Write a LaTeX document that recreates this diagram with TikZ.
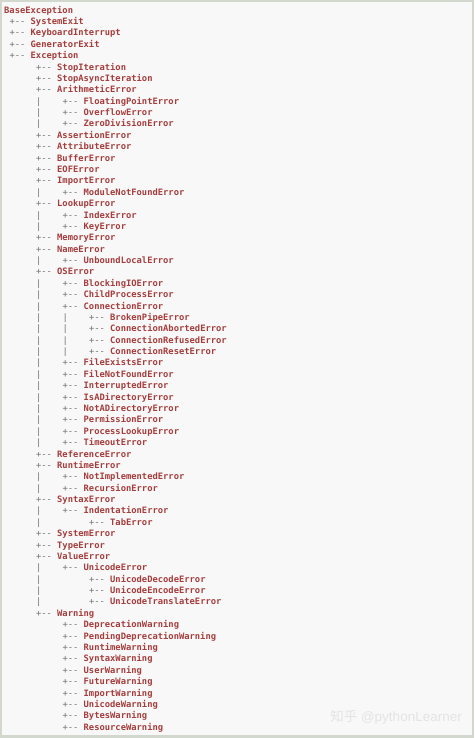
\documentclass[tikz,border=0pt]{standalone}
\usepackage{fontspec}
\setmonofont{DejaVu Sans Mono}
\setsansfont{Liberation Sans}
\newfontfamily\cjk{Noto Sans CJK SC}
\definecolor{excred}{HTML}{A63D3D}
\definecolor{treegray}{HTML}{707070}
\definecolor{pagebg}{HTML}{F8F8F8}
\definecolor{frameline}{HTML}{D2D8CE}
\definecolor{markgray}{HTML}{E4E4E4}

\begin{document}
\begin{tikzpicture}[x=5.3pt, y=-11.38pt,
  exc/.style={anchor=base west, inner sep=0pt, text=excred,
    font=\ttfamily\bfseries\fontsize{8.8}{10}\selectfont},
  tree/.style={anchor=base west, inner sep=0pt, text=treegray,
    font=\ttfamily\fontsize{8.8}{10}\selectfont}]
  \useasboundingbox (0pt,0pt) rectangle (474pt,-738pt);
  \fill[frameline] (0pt,0pt) rectangle (474pt,-738pt);
  \fill[pagebg] (2pt,-2pt) rectangle (472pt,-735pt);

  \begin{scope}[shift={(4pt,-13.2pt)}]
    \foreach \c/\n [count=\r from 0] in {
      0/BaseException, 5/SystemExit, 5/KeyboardInterrupt, 5/GeneratorExit,
      5/Exception, 10/StopIteration, 10/StopAsyncIteration, 10/ArithmeticError,
      15/FloatingPointError, 15/OverflowError, 15/ZeroDivisionError,
      10/AssertionError, 10/AttributeError, 10/BufferError, 10/EOFError,
      10/ImportError, 15/ModuleNotFoundError, 10/LookupError, 15/IndexError,
      15/KeyError, 10/MemoryError, 10/NameError, 15/UnboundLocalError,
      10/OSError, 15/BlockingIOError, 15/ChildProcessError, 15/ConnectionError,
      20/BrokenPipeError, 20/ConnectionAbortedError, 20/ConnectionRefusedError,
      20/ConnectionResetError, 15/FileExistsError, 15/FileNotFoundError,
      15/InterruptedError, 15/IsADirectoryError, 15/NotADirectoryError,
      15/PermissionError, 15/ProcessLookupError, 15/TimeoutError,
      10/ReferenceError, 10/RuntimeError, 15/NotImplementedError,
      15/RecursionError, 10/SyntaxError, 15/IndentationError, 20/TabError,
      10/SystemError, 10/TypeError, 10/ValueError, 15/UnicodeError,
      20/UnicodeDecodeError, 20/UnicodeEncodeError, 20/UnicodeTranslateError,
      10/Warning, 15/DeprecationWarning, 15/PendingDeprecationWarning,
      15/RuntimeWarning, 15/SyntaxWarning, 15/UserWarning, 15/FutureWarning,
      15/ImportWarning, 15/UnicodeWarning, 15/BytesWarning, 15/ResourceWarning} {
      \node[exc] (e\r) at (\c, \r) {\n};
      \ifnum\c>0 \node[tree] (p\r) at (\c-4, \r) {+--}; \fi
    }

    \foreach \r in {8,9,10,16,18,19,22,24,25,...,38,41,42,44,45,49,50,...,52}
      \node[tree] (b\r) at (6, \r) {|};
    \foreach \r in {27,...,30}
      \node[tree] (c\r) at (11, \r) {|};
  \end{scope}

  \node[anchor=base east, inner sep=0pt, text=markgray, font=\sffamily\fontsize{13.5}{14}\selectfont]
    (mark) at (462pt,-721pt) {{\cjk 知乎} @pythonLearner};
\end{tikzpicture}
\end{document}
